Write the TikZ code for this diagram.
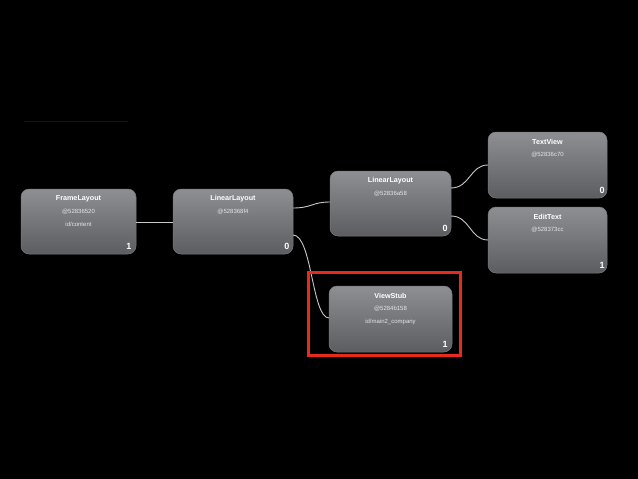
\documentclass[tikz,border=0pt]{standalone}
\usepackage{fontspec}
\setmainfont{Liberation Sans}
\definecolor{boxtop}{HTML}{8E8F93}
\definecolor{boxbot}{HTML}{5C5D61}
\definecolor{boxedge}{HTML}{7A7B7F}
\definecolor{wire}{HTML}{C8C8C8}
\definecolor{hilite}{HTML}{E62A1E}
\definecolor{faint}{HTML}{151515}
\begin{document}
\begin{tikzpicture}[x=1pt,y=-1pt,
  viewbox/.style={draw=boxedge, line width=0.5pt, rounded corners=8pt, top color=boxtop, bottom color=boxbot},
  ttl/.style={text=white, font=\bfseries\fontsize{7.2}{8}\selectfont, inner sep=0pt},
  sub/.style={text=white!90!black, font=\fontsize{6}{7}\selectfont, inner sep=0pt},
  idx/.style={text=white, font=\bfseries\fontsize{9}{10}\selectfont, inner sep=0pt},
  wirestyle/.style={draw=wire, line width=0.9pt}]
\fill[black] (0,0) rectangle (638,479);
\useasboundingbox (0,0) rectangle (638,479);
\draw[faint, line width=0.8pt] (24,121) -- (128,121);

% FrameLayout
\path[viewbox] (21,189) rectangle (136,254);
\node[ttl] (flt) at (78.5,199) {FrameLayout};
\node[sub] (fls) at (78.5,212) {@52836520};
\node[sub] (fli) at (78.5,224) {id/content};
\node[idx] (fln) at (129,246) {1};
\coordinate (flR) at (136,222);

% LinearLayout 1
\path[viewbox] (173,189) rectangle (293,254);
\node[ttl] (l1t) at (233,199) {LinearLayout};
\node[sub] (l1s) at (233,212) {@528368f4};
\node[idx] (l1n) at (287,246) {0};
\coordinate (l1L) at (173,222);
\coordinate (l1Ra) at (293,208);
\coordinate (l1Rb) at (293,235);

% LinearLayout 2
\path[viewbox] (330,171) rectangle (451,236);
\node[ttl] (l2t) at (390.5,181) {LinearLayout};
\node[sub] (l2s) at (390.5,194) {@52836a58};
\node[idx] (l2n) at (445,228) {0};
\coordinate (l2L) at (330,202);
\coordinate (l2Ra) at (451,188);
\coordinate (l2Rb) at (451,216);

% TextView
\path[viewbox] (488,132) rectangle (607,198);
\node[ttl] (tvt) at (547.5,142) {TextView};
\node[sub] (tvs) at (547.5,155) {@52836c70};
\node[idx] (tvn) at (602,190) {0};
\coordinate (tvL) at (488,165);

% EditText
\path[viewbox] (488,207) rectangle (607,273);
\node[ttl] (ett) at (547.5,217) {EditText};
\node[sub] (ets) at (547.5,230) {@528373cc};
\node[idx] (etn) at (602,265) {1};
\coordinate (etL) at (488,240);

% ViewStub
\path[viewbox] (329,286) rectangle (452,352);
\node[ttl] (vst) at (390.5,296) {ViewStub};
\node[sub] (vss) at (390.5,309) {@5284b158};
\node[sub] (vsi) at (390.5,322) {id/main2\_company};
\node[idx] (vsn) at (445,344) {1};
\coordinate (vsL) at (329,318);

% connectors
\draw[wirestyle] (flR) -- (l1L);
\draw[wirestyle] (l1Ra) .. controls (312,208) and (312,202) .. (l2L);
\draw[wirestyle] (l1Rb) .. controls (312,235) and (312,318) .. (vsL);
\draw[wirestyle] (l2Ra) .. controls (470,188) and (470,165) .. (tvL);
\draw[wirestyle] (l2Rb) .. controls (470,216) and (470,240) .. (etL);

% highlight
\draw[hilite, line width=3pt] (308,272) rectangle (460,355);
\end{tikzpicture}
\end{document}
